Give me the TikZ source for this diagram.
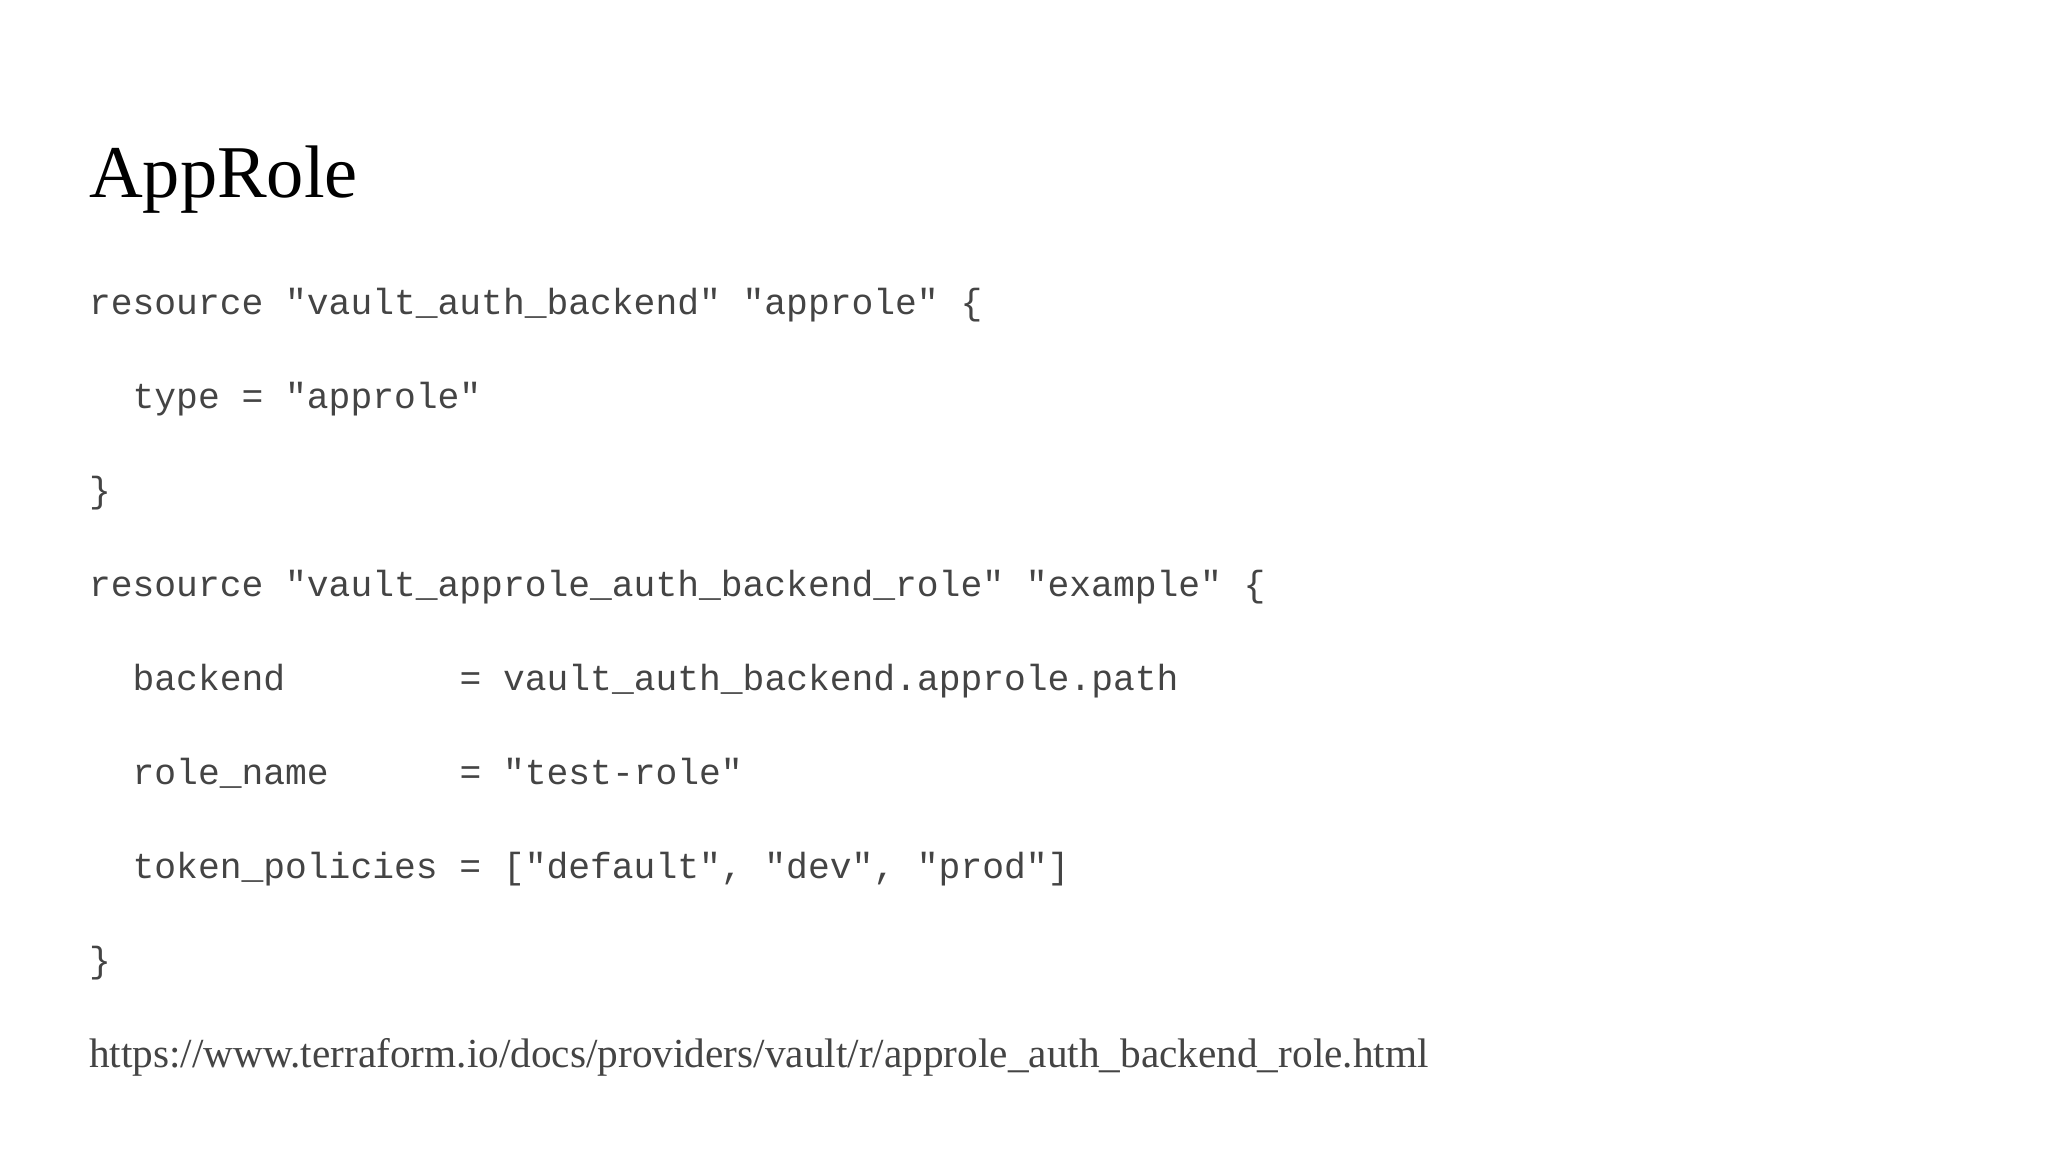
\documentclass[tikz,border=0pt]{standalone}
\usepackage{fontspec}
\setmainfont{Liberation Serif}
\setmonofont{Liberation Mono}
\usetikzlibrary{positioning}
\definecolor{codegray}{HTML}{444444}
\begin{document}
\begin{tikzpicture}[x=1pt, y=1pt,
        title/.style={anchor=base west, inner sep=0pt, font=\fontsize{57}{60}\selectfont},
        code/.style={anchor=base west, inner sep=0pt, text=codegray, font=\ttfamily\fontsize{27.8}{30}\selectfont},
        link/.style={anchor=base west, inner sep=0pt, text=codegray, font=\fontsize{31.6}{34}\selectfont}
    ]
        \useasboundingbox (0,0) rectangle (1568,-882);
        % Title
        \node[title] (head) at (68,-151) {AppRole};
        % Code lines
        \foreach \i/\t in {1/{resource "vault\_auth\_backend" "approle" \{},
                           2/{\ \ type = "approle"},
                           3/{\}},
                           4/{resource "vault\_approle\_auth\_backend\_role" "example" \{},
                           5/{\ \ backend\ \ \ \ \ \ \ \ = vault\_auth\_backend.approle.path},
                           6/{\ \ role\_name\ \ \ \ \ \ = "test-role"},
                           7/{\ \ token\_policies = ["default", "dev", "prod"]},
                           8/{\}}} {
            \node[code] (l\i) at (68, -241 - \i*71.9 + 71.9) {\t};
        }
        % Source
        \node[link] (url) at (68,-817) {https://www.terraform.io/docs/providers/vault/r/approle\_auth\_backend\_role.html};
    \end{tikzpicture}
\end{document}
